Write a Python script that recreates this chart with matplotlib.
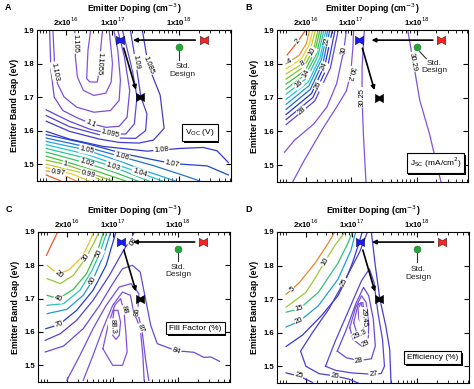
import numpy as np
import matplotlib
matplotlib.use("Agg")
import matplotlib.pyplot as plt
import matplotlib.patheffects as pe
from matplotlib.colors import LinearSegmentedColormap
from matplotlib.ticker import FixedLocator, FixedFormatter, LogLocator, NullFormatter

plt.rcParams['font.family'] = ['Liberation Sans', 'DejaVu Sans']

# ---------------------------------------------------------------------------
# contour lines: (level, log10 doping, band gap)
VOC_LINES = [
    (1.1055, [16.67, 16.63, 16.61, 16.66, 16.77, 16.80, 16.82, 16.85], [1.90, 1.84, 1.755, 1.745, 1.745, 1.78, 1.84, 1.90]),
    (1.105, [16.43, 16.44, 16.47, 16.56, 16.72, 16.90, 16.98, 17.00, 16.95], [1.90, 1.82, 1.76, 1.72, 1.705, 1.712, 1.745, 1.80, 1.90]),
    (1.103, [16.10, 16.13, 16.17, 16.27, 16.46, 16.72, 16.97, 17.10, 17.12, 17.08, 17.02], [1.90, 1.78, 1.74, 1.70, 1.67, 1.655, 1.66, 1.69, 1.75, 1.84, 1.90]),
    (1.1, [16.05, 16.07, 16.12, 16.25, 16.45, 16.67, 16.90, 17.10, 17.22, 17.26, 17.18, 17.08], [1.90, 1.78, 1.70, 1.66, 1.64, 1.621, 1.61, 1.613, 1.64, 1.72, 1.82, 1.90]),
    (1.095, [16.0, 16.35, 16.65, 16.97, 17.20, 17.33, 17.37, 17.30, 17.15], [1.662, 1.628, 1.605, 1.59, 1.59, 1.62, 1.70, 1.78, 1.90]),
    (1.09, [16.0, 16.35, 16.8, 17.1, 17.35, 17.50, 17.52, 17.43, 17.35, 17.27], [1.645, 1.612, 1.588, 1.578, 1.577, 1.60, 1.65, 1.70, 1.805, 1.90]),
    (1.085, [16.0, 16.35, 16.8, 17.1, 17.4, 17.62, 17.78, 17.72, 17.54, 17.45], [1.628, 1.598, 1.575, 1.565, 1.563, 1.572, 1.607, 1.706, 1.795, 1.90]),
    (1.08, [16.0, 16.35, 16.86, 17.52, 18.02, 18.37, 18.58, 18.75], [1.598, 1.575, 1.553, 1.539, 1.547, 1.55, 1.54, 1.505]),
    (1.07, [16.0, 16.6, 17.2, 17.9, 18.43, 18.75], [1.588, 1.562, 1.53, 1.502, 1.495, 1.468]),
    (1.06, [16.0, 16.6, 17.14, 17.6, 18.1, 18.32], [1.578, 1.552, 1.522, 1.497, 1.465, 1.45]),
    (1.05, [16.0, 16.61, 17.1, 17.5, 17.95], [1.568, 1.542, 1.51, 1.48, 1.45]),
    (1.04, [16.0, 16.6, 17.0, 17.41, 17.75], [1.558, 1.53, 1.503, 1.475, 1.45]),
    (1.03, [16.0, 16.6, 17.01, 17.55], [1.547, 1.518, 1.492, 1.45]),
    (1.02, [16.0, 16.61, 17.0, 17.38], [1.536, 1.503, 1.478, 1.45]),
    (1.01, [16.0, 16.6, 17.2], [1.524, 1.49, 1.45]),
    (1.00, [16.0, 16.28, 16.6, 17.0], [1.512, 1.50, 1.478, 1.45]),
    (0.99, [16.0, 16.63, 16.85], [1.50, 1.47, 1.45]),
    (0.98, [16.0, 16.4, 16.65], [1.49, 1.47, 1.45]),
    (0.97, [16.0, 16.18, 16.45], [1.48, 1.475, 1.45]),
    (0.96, [16.0, 16.22], [1.468, 1.45]),
]

JSC_LINES = [
    (2, [16.015, 16.18, 16.30], [1.826, 1.866, 1.90]),
    (4, [16.0, 16.20, 16.31, 16.36], [1.80, 1.825, 1.86, 1.90]),
    (6, [16.0, 16.23, 16.35, 16.41], [1.785, 1.814, 1.854, 1.90]),
    (8, [16.0, 16.25, 16.38, 16.45], [1.77, 1.80, 1.848, 1.90]),
    (10, [16.0, 16.27, 16.42, 16.49], [1.755, 1.791, 1.842, 1.90]),
    (12, [16.0, 16.29, 16.44, 16.52], [1.74, 1.78, 1.836, 1.90]),
    (14, [16.0, 16.30, 16.47, 16.55], [1.725, 1.769, 1.83, 1.90]),
    (16, [16.0, 16.32, 16.49, 16.58], [1.71, 1.758, 1.824, 1.90]),
    (18, [16.0, 16.34, 16.52, 16.61], [1.695, 1.746, 1.818, 1.90]),
    (20, [16.0, 16.35, 16.54, 16.64], [1.68, 1.735, 1.812, 1.90]),
    (22, [16.0, 16.37, 16.57, 16.67], [1.665, 1.724, 1.806, 1.90]),
    (24, [16.0, 16.39, 16.60, 16.71], [1.65, 1.712, 1.80, 1.90]),
    (26, [16.0, 16.41, 16.64, 16.75], [1.635, 1.70, 1.794, 1.90]),
    (28, [16.0, 16.44, 16.68, 16.80], [1.62, 1.69, 1.788, 1.90]),
    (30, [15.975, 16.125, 16.425, 16.625, 16.775, 16.885, 16.925], [1.538, 1.573, 1.622, 1.672, 1.741, 1.84, 1.90]),
    (30.2, [16.10, 16.275, 16.575, 16.775, 16.925, 16.99, 17.025, 17.035], [1.45, 1.513, 1.612, 1.672, 1.72, 1.77, 1.85, 1.90]),
    (30.25, [17.20, 17.165, 17.165, 17.185, 17.225], [1.90, 1.79, 1.70, 1.592, 1.45]),
    (30.29, [17.865, 17.95, 18.05, 18.20, 18.375], [1.90, 1.806, 1.692, 1.592, 1.45]),
]

FF_LINES = [
    (10, [15.99, 16.06, 16.16], [1.83, 1.86, 1.90]),
    (20, [16.0, 16.17, 16.34, 16.54, 16.66, 16.71], [1.80, 1.773, 1.788, 1.827, 1.876, 1.90]),
    (30, [16.0, 16.2, 16.4, 16.59, 16.72, 16.79], [1.76, 1.745, 1.77, 1.822, 1.87, 1.90]),
    (40, [16.0, 16.17, 16.4, 16.6, 16.78, 16.86], [1.71, 1.70, 1.728, 1.775, 1.85, 1.90]),
    (50, [16.0, 16.25, 16.5, 16.68, 16.80, 16.91], [1.68, 1.685, 1.725, 1.783, 1.835, 1.90]),
    (60, [16.0, 16.3, 16.55, 16.69, 16.85, 16.97], [1.655, 1.668, 1.71, 1.754, 1.825, 1.90]),
    (70, [15.98, 16.18, 16.45, 16.7, 16.9, 17.05], [1.61, 1.622, 1.665, 1.725, 1.80, 1.90]),
    (80, [15.97, 16.2, 16.45, 16.7, 16.95, 17.15, 17.28, 17.33], [1.575, 1.595, 1.635, 1.695, 1.77, 1.84, 1.88, 1.90]),
    (84, [15.97, 16.25, 16.55, 16.8, 17.0, 17.15, 17.3, 17.42, 17.5, 17.58, 17.68, 17.97, 18.24, 18.39, 18.5, 18.63],
         [1.54, 1.558, 1.61, 1.68, 1.745, 1.79, 1.80, 1.78, 1.70, 1.62, 1.565, 1.544, 1.539, 1.524, 1.525, 1.512]),
    (86, [16.3, 16.5, 16.7, 16.9, 17.1, 17.28, 17.40, 17.38, 17.45, 17.5, 17.55], [1.455, 1.53, 1.61, 1.68, 1.735, 1.745, 1.715, 1.661, 1.60, 1.52, 1.455]),
    (87, [16.55, 16.7, 16.85, 17.0, 17.15, 17.27, 17.32, 17.42, 17.46, 17.48], [1.455, 1.53, 1.61, 1.68, 1.72, 1.71, 1.66, 1.612, 1.53, 1.455]),
    (88, [16.85, 16.93, 17.03, 17.12, 17.17, 17.20, 17.22, 17.15, 17.0, 16.85], [1.55, 1.62, 1.68, 1.70, 1.666, 1.60, 1.54, 1.50, 1.50, 1.55]),
    (88.3, [17.02, 16.99, 17.0, 17.05, 17.10, 17.12, 17.08, 17.02], [1.665, 1.62, 1.59, 1.578, 1.59, 1.63, 1.665, 1.665]),
]

EFF_LINES = [
    (5, [16.0, 16.09, 16.2, 16.44, 16.64, 16.74], [1.715, 1.729, 1.749, 1.807, 1.866, 1.90]),
    (10, [16.0, 16.30, 16.45, 16.59, 16.75, 16.9], [1.676, 1.72, 1.765, 1.812, 1.862, 1.90]),
    (15, [16.0, 16.20, 16.49, 16.79, 16.95, 17.01], [1.661, 1.671, 1.72, 1.807, 1.87, 1.90]),
    (20, [16.0, 16.20, 16.49, 16.79, 16.99, 17.06], [1.617, 1.634, 1.68, 1.759, 1.846, 1.90]),
    (25, [16.0, 16.25, 16.54, 16.79, 16.89, 17.01, 17.11, 17.16], [1.559, 1.593, 1.651, 1.71, 1.749, 1.807, 1.866, 1.90]),
    (25, [16.0, 16.19, 16.4], [1.48, 1.471, 1.452]),
    (26, [17.24, 17.12, 16.92, 16.65, 16.4, 16.22, 16.3, 16.5, 16.74, 16.95, 17.1],
         [1.90, 1.84, 1.765, 1.67, 1.60, 1.545, 1.50, 1.478, 1.471, 1.462, 1.45]),
    (26, [17.30, 17.36, 17.43, 17.52, 17.58, 17.6], [1.90, 1.80, 1.70, 1.62, 1.55, 1.45]),
    (27, [16.6, 16.75, 16.95, 17.15, 17.27, 17.34, 17.40, 17.47, 17.5, 17.45, 17.33, 17.0, 16.75, 16.6],
         [1.50, 1.575, 1.665, 1.755, 1.79, 1.75, 1.66, 1.58, 1.50, 1.478, 1.476, 1.48, 1.488, 1.50]),
    (28, [16.78, 16.92, 17.06, 17.18, 17.26, 17.33, 17.36, 17.3, 17.11, 16.92, 16.78],
         [1.545, 1.61, 1.685, 1.735, 1.71, 1.64, 1.56, 1.522, 1.517, 1.525, 1.545]),
    (29, [16.97, 17.06, 17.15, 17.22, 17.26, 17.25, 17.15, 17.02, 16.97], [1.615, 1.675, 1.71, 1.69, 1.625, 1.57, 1.56, 1.58, 1.615]),
    (29.3, [17.03, 17.1, 17.17, 17.2, 17.18, 17.09, 17.03], [1.63, 1.685, 1.69, 1.645, 1.60, 1.592, 1.63]),
    (29.45, [17.1, 17.14, 17.17, 17.18, 17.15, 17.11, 17.1], [1.67, 1.69, 1.67, 1.64, 1.625, 1.64, 1.67]),
]

# design points (log10 doping, band gap)
OPT_POINT = (17.12, 1.87)      # blue
START_POINT = (18.38, 1.87)    # red
STD_POINT = (18.0, 1.85)       # green
FINAL_POINT = (17.42, 1.70)    # black

TOP_TICKS = [2e16, 1e17, 1e18]
TOP_LABELS = ['2x10$^{16}$', '1x10$^{17}$', '1x10$^{18}$']
Y_TICKS = [1.5, 1.6, 1.7, 1.8, 1.9]

# ---------------------------------------------------------------------------
cmap = LinearSegmentedColormap.from_list(
    'igor', [(0.0, '#e62a22'), (0.2, '#f0cf2c'), (0.4, '#3cbf3a'),
             (0.6, '#1fc6e2'), (0.8, '#2430c6'), (1.0, '#8252e0')])

BOWTIE = [(-1, -1), (0, -0.45), (1, -1), (1, 1), (0, 0.45), (-1, 1), (-1, -1)]

fig = plt.figure(figsize=(4.74, 3.89), dpi=100)
W, H = 474.0, 389.0


def put_label(ax, xs, ys, text, tx, ty, flip=False):
    P = ax.transData.transform(np.column_stack([10 ** np.asarray(xs, float), ys]))
    T = ax.transData.transform((10 ** tx, ty))
    best = None
    for i in range(len(P) - 1):
        a, d = P[i], P[i + 1] - P[i]
        L2 = d @ d
        t = 0.0 if L2 == 0 else np.clip((T - a) @ d / L2, 0, 1)
        q = a + t * d
        dist = np.hypot(*(q - T))
        if best is None or dist < best[0]:
            best = (dist, q, d)
    _, q, d = best
    ang = np.degrees(np.arctan2(d[1], d[0]))
    if ang > 90:
        ang -= 180
    if ang <= -90:
        ang += 180
    if flip:
        ang += 180
    x, y = ax.transData.inverted().transform(q)
    ax.text(x, y, text, rotation=ang, rotation_mode='anchor', ha='center', va='center',
            fontsize=5.5, zorder=3,
            bbox=dict(boxstyle='square,pad=0.08', fc='white', ec='none'))


def panel(rect, lines, vmin, vmax, labels, box_text, box_xy, letter, std_text_xy, std_conn):
    ax = fig.add_axes([rect[0] / W, 1 - rect[3] / H, (rect[2] - rect[0]) / W, (rect[3] - rect[1]) / H])
    ax.set_xscale('log')
    ax.set_xlim(10 ** 15.86, 10 ** 18.79)
    ax.set_ylim(1.45, 1.9)
    ax.xaxis.set_major_locator(FixedLocator(TOP_TICKS))
    ax.xaxis.set_major_formatter(FixedFormatter(TOP_LABELS))
    ax.xaxis.set_minor_locator(LogLocator(base=10, subs=np.arange(1, 10)))
    ax.xaxis.set_minor_formatter(NullFormatter())
    ax.tick_params(axis='x', which='both', direction='in', top=True, bottom=True,
                   labeltop=True, labelbottom=False, pad=1.5)
    ax.tick_params(axis='x', which='major', length=3.5, width=0.8)
    ax.tick_params(axis='x', which='minor', length=2, width=0.6)
    ax.yaxis.set_major_locator(FixedLocator(Y_TICKS))
    ax.set_yticklabels(['%.1f' % v for v in Y_TICKS])
    ax.tick_params(axis='y', direction='in', left=True, right=True, length=3.5, width=0.8, pad=2)
    for lab in ax.get_xticklabels() + ax.get_yticklabels():
        lab.set_fontsize(5.6)
        lab.set_fontweight('bold')
    for s in ax.spines.values():
        s.set_linewidth(0.8)
    ax.xaxis.set_label_position('top')
    ax.set_xlabel('Emitter Doping (cm$^{-3}$)', fontsize=6.3, fontweight='bold', labelpad=2.5)
    ax.set_ylabel('Emitter Band Gap (eV)', fontsize=6.3, fontweight='bold', labelpad=3.5)

    for lev, xs, ys in lines:
        ax.plot(10 ** np.asarray(xs), ys, color=cmap((lev - vmin) / (vmax - vmin)), lw=0.9, zorder=2)
    for spec in labels:
        idx, text, tx, ty = spec[:4]
        flip = spec[4] if len(spec) > 4 else False
        put_label(ax, lines[idx][1], lines[idx][2], text, tx, ty, flip)

    # arrows
    ax.annotate('', xy=(10 ** 17.31, 1.87), xytext=(10 ** 18.25, 1.87),
                arrowprops=dict(arrowstyle='-|>', lw=1.2, color='black', mutation_scale=6,
                                shrinkA=0, shrinkB=0), zorder=4)
    ax.annotate('', xy=(10 ** 17.355, 1.722), xytext=(10 ** 17.17, 1.846),
                arrowprops=dict(arrowstyle='-|>', lw=1.2, color='black', mutation_scale=6,
                                shrinkA=0, shrinkB=0), zorder=4)
    # markers
    for (px, py), c in [(OPT_POINT, '#1a1aff'), (START_POINT, '#ff2020'), (FINAL_POINT, 'black')]:
        ax.plot(10 ** px, py, ls='none', marker=BOWTIE, ms=6, color=c, mec='black', mew=0.3, zorder=5)
    ax.plot(10 ** STD_POINT[0], STD_POINT[1], ls='none', marker='o', ms=5, color='#22a83a', mec='#1a7a2a', mew=0.4, zorder=5)
    ax.plot([10 ** std_conn[0], 10 ** std_conn[2]], [std_conn[1], std_conn[3]], color='#333333', lw=0.8, zorder=4)
    ax.text(10 ** std_text_xy[0], std_text_xy[1], 'Std.\nDesign', fontsize=6, ha='center', va='center',
            linespacing=1.1, color='#222222', zorder=4)

    # boxed legend text with a drop shadow
    t = ax.text(box_xy[0], box_xy[1], box_text, transform=ax.transAxes, zorder=6,
                fontsize=6, ha='center', va='center',
                bbox=dict(boxstyle='square,pad=0.35', fc='white', ec='black', lw=0.8))
    t.get_bbox_patch().set_path_effects([
        pe.SimplePatchShadow(offset=(1.3, -1.3), shadow_rgbFace='black', alpha=1.0), pe.Normal()])
    fig.text(rect[0] / W - 32 / W, 1 - (rect[1] - 22) / H, letter, fontsize=6.5, fontweight='bold',
             ha='left', va='center')
    return ax


voc_labels = [(0, '1.1055', 16.82, 1.80, True), (1, '1.105', 16.46, 1.86), (2, '1.103', 16.14, 1.776),
              (3, '1.1', 16.67, 1.621), (4, '1.095', 16.97, 1.587), (5, '1.09', 17.35, 1.805),
              (6, '1.085', 17.54, 1.795), (7, '1.08', 17.74, 1.537), (8, '1.07', 17.90, 1.502),
              (9, '1.06', 17.14, 1.522), (10, '1.05', 16.61, 1.542), (11, '1.04', 17.41, 1.475),
              (12, '1.03', 17.01, 1.492), (13, '1.02', 16.61, 1.502), (15, '1', 16.28, 1.50),
              (16, '0.99', 16.63, 1.470), (18, '0.97', 16.18, 1.477)]
jsc_labels = [(0, '2', 16.185, 1.864), (1, '4', 16.06, 1.807), (3, '8', 16.285, 1.795),
              (4, '10', 16.385, 1.837), (6, '14', 16.335, 1.767), (7, '16', 16.135, 1.752),
              (10, '22', 16.60, 1.866), (11, '24', 16.51, 1.797), (12, '26', 16.36, 1.747),
              (13, '28', 16.185, 1.673), (14, '30', 16.885, 1.84), (15, '30.2', 16.99, 1.77, True),
              (16, '30.25', 17.165, 1.70), (17, '30.29', 17.95, 1.806)]
ff_labels = [(1, '20', 16.17, 1.773), (2, '30', 16.59, 1.822), (3, '40', 16.17, 1.70),
             (4, '50', 16.80, 1.835), (5, '60', 16.69, 1.754), (6, '70', 16.18, 1.622),
             (7, '80', 17.30, 1.871, True), (8, '84', 17.97, 1.544), (9, '86', 17.35, 1.661),
             (10, '87', 17.42, 1.612), (11, '88', 17.16, 1.666), (12, '88.3', 17.02, 1.617)]
eff_labels = [(0, '5', 16.09, 1.729), (1, '10', 16.59, 1.812), (2, '15', 16.20, 1.671),
              (3, '20', 16.20, 1.634), (4, '25', 16.89, 1.749), (5, '25', 16.19, 1.471),
              (6, '26', 16.74, 1.471), (8, '27', 17.33, 1.476), (9, '28', 17.11, 1.517),
              (10, '29', 17.23, 1.563), (11, '29.3', 17.13, 1.591), (12, '29.45', 17.18, 1.646)]

panel((37, 30, 231, 181), VOC_LINES, 0.95, 1.1055, voc_labels, 'V$_{\\rm OC}$ (V)', (0.84, 0.32), 'A',
      (18.06, 1.78), (18.0, 1.84, 18.0, 1.812))
panel((277, 30, 468, 182), JSC_LINES, 0.0, 30.29, jsc_labels, 'J$_{\\rm SC}$ (mA/cm$^2$)', (0.83, 0.125), 'B',
      (18.27, 1.79), (18.05, 1.836, 18.15, 1.815))
panel((38, 232, 230, 382), FF_LINES, 5.0, 88.3, ff_labels, 'Fill Factor (%)', (0.82, 0.36), 'C',
      (18.0, 1.783), (18.0, 1.84, 18.0, 1.812))
panel((277, 232, 469, 383), EFF_LINES, 2.0, 29.45, eff_labels, 'Efficiency (%)', (0.81, 0.17), 'D',
      (18.02, 1.777), (18.0, 1.84, 18.0, 1.812))

fig.savefig('out.png', dpi=100)
